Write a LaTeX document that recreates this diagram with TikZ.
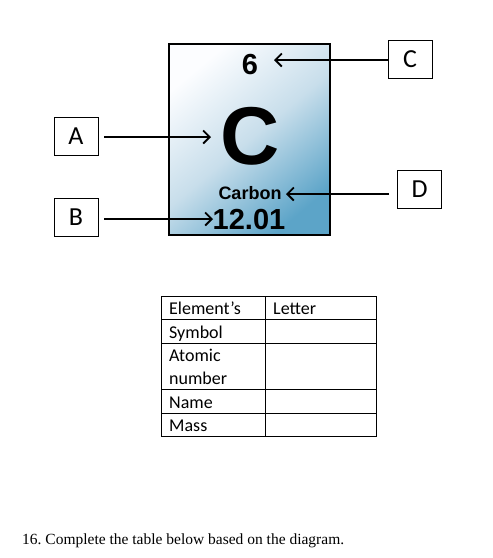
\documentclass[tikz,border=0pt]{standalone}
\usepackage{fontspec}
\setmainfont{Liberation Serif}
\newfontfamily\calfont{Carlito}
\newfontfamily\elemfont{Liberation Sans}
\usetikzlibrary{positioning,arrows.meta}

\definecolor{boxtop}{RGB}{252,253,255}
\definecolor{boxmid}{RGB}{200,222,235}
\definecolor{boxbot}{RGB}{92,164,200}

\tikzset{
  letterbox/.style={draw, line width=0.6pt, minimum width=44pt, minimum height=38pt,
    inner sep=0pt, font=\calfont\fontsize{26}{26}\selectfont},
  pointer/.style={line width=1.8pt, -{Straight Barb[length=6.5pt,width=13pt,line width=1.8pt]}},
  cell/.style={anchor=base west, inner sep=0pt, font=\calfont\fontsize{18}{18}\selectfont},
  grid/.style={line width=0.8pt}
}
\frenchspacing

\begin{document}
\begin{tikzpicture}[x=1pt,y=-1pt]
\useasboundingbox (0,0) rectangle (493,558);

% element tile
\node[draw, line width=2.8pt, minimum width=161pt, minimum height=191pt,
  top color=boxtop, bottom color=boxbot, middle color=boxmid, shading angle=40]
  (tile) at (249.5,139.5) {};
\node[font=\elemfont\bfseries\fontsize{29}{29}\selectfont, inner sep=0pt] (num) at (250,65) {6};
\node[font=\elemfont\bfseries\fontsize{82}{82}\selectfont, inner sep=0pt] (sym) at (250,136) {C};
\node[font=\elemfont\bfseries\fontsize{18}{18}\selectfont, inner sep=0pt] (name) at (250,193) {Carbon};
\node[font=\elemfont\bfseries\fontsize{29}{29}\selectfont, inner sep=0pt] (mass) at (249,220) {12.01};

% letter boxes
\node[letterbox] (A) at (76,136) {A};
\node[letterbox] (B) at (76,217) {B};
\node[letterbox] (C) at (410,59.5) {C};
\node[letterbox] (D) at (419.5,189) {D};

\coordinate (tipA) at (211,137);
\coordinate (tipB) at (213,219);
\coordinate (tipC) at (274,60);
\coordinate (tipD) at (286,194);
\coordinate (startD) at (389,194);

\draw[pointer] (A.east |- tipA) ++(6,0) -- (tipA);
\draw[pointer] (B.east |- tipB) ++(6,0) -- (tipB);
\draw[pointer] (C.west |- tipC) -- (tipC);
\draw[pointer] (startD) -- (tipD);

% table
\draw[grid] (161,296) rectangle (376,436);
\draw[grid] (265,296) -- (265,436);
\foreach \yy in {319,343,389,413}
  \draw[grid] (161,\yy) -- (376,\yy);
\node[cell] (h1) at (169,314) {Element’s};
\node[cell] (h2) at (273,314) {Letter};
\node[cell] (r1) at (169,338) {Symbol};
\node[cell] (r2) at (169,361) {Atomic};
\node[cell] (r2b) at (169,384) {number};
\node[cell] (r3) at (169,408) {Name};
\node[cell] (r4) at (169,431) {Mass};

\node[anchor=base west, inner sep=0pt, font=\fontsize{15.5}{15.5}\selectfont]
  (task) at (22,544) {16. Complete the table below based on the diagram.};
\end{tikzpicture}
\end{document}
